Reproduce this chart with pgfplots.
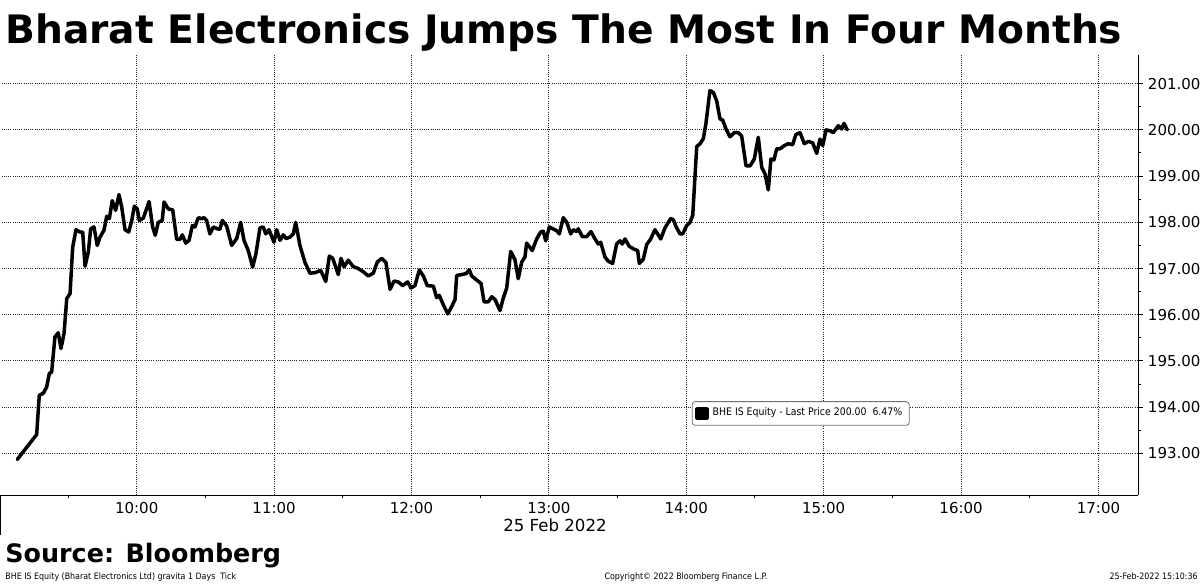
\documentclass[border=0pt]{standalone}
\usepackage{fontspec}
\setmainfont{DejaVu Sans}
\newfontfamily\condfont{DejaVu Sans Condensed}
\usepackage{pgfplots}
\pgfplotsset{compat=1.18}
\begin{document}
\begin{tikzpicture}
\path[use as bounding box] (0,0) rectangle (600pt,292pt);
\begin{axis}[
    scale only axis,
    width=569.5pt,
    height=220.25pt,
    at={(-0.35pt,44.25pt)},
    anchor=south west,
    xmin=9, xmax=17.29,
    ymin=192.09, ymax=201.62,
    axis x line*=bottom,
    axis y line*=right,
    xtick={9,10,11,12,13,14,15,16,17},
    xticklabels={{},10:00,11:00,12:00,13:00,14:00,15:00,16:00,17:00},
    ytick={193,194,195,196,197,198,199,200,201},
    yticklabels={193.00,194.00,195.00,196.00,197.00,198.00,199.00,200.00,201.00},
    minor x tick num=1,
    minor y tick num=1,
    tick align=outside,
    major tick length=2.3pt,
    minor tick length=1.4pt,
    major x tick style={draw=none},
    tick style={black, line width=0.5pt},
    axis line style={black, line width=0.6pt},
    grid=major,
    grid style={black!85, line width=0.5pt, dash pattern=on 0.5pt off 0.6pt},
    ticklabel style={font=\fontsize{7.5}{9}\selectfont},
    xticklabel style={yshift=2.4pt},
    yticklabel style={xshift=-1pt},
    /pgf/number format/assume math mode=true,
    legend style={
        at={(0.608,0.214)}, anchor=north west,
        draw=black!55, rounded corners=1.5pt, fill=white,
        font=\condfont\fontsize{5.2}{6.5}\selectfont,
        inner xsep=1.5pt, inner ysep=1.2pt,
    },
    legend cell align=left,
    legend image code/.code={\fill[black, sharp corners] (0pt,-2.4pt) rectangle (5pt,2.4pt);},
]
\addplot[black, line width=1.75pt, line join=round, line cap=round] coordinates {
    (9.131,192.87) (9.272,193.41) (9.291,194.26) (9.320,194.30) (9.345,194.44)
    (9.364,194.73) (9.381,194.76) (9.405,195.52) (9.429,195.61) (9.449,195.27)
    (9.471,195.59) (9.491,196.35) (9.515,196.46) (9.534,197.46) (9.558,197.84)
    (9.587,197.79) (9.607,197.79) (9.624,197.05) (9.648,197.36) (9.665,197.86)
    (9.689,197.90) (9.713,197.50) (9.733,197.68) (9.762,197.83) (9.782,198.13)
    (9.801,198.08) (9.822,198.47) (9.847,198.26) (9.871,198.60) (9.891,198.33)
    (9.915,197.84) (9.942,197.79) (9.964,198.04) (9.983,198.35) (10.004,198.29)
    (10.019,198.04) (10.048,198.09) (10.090,198.45) (10.116,197.90) (10.135,197.72)
    (10.157,198.00) (10.186,198.04) (10.199,198.44) (10.230,198.29) (10.262,198.27)
    (10.291,197.63) (10.315,197.63) (10.332,197.73) (10.357,197.55) (10.381,197.61)
    (10.405,197.93) (10.424,197.90) (10.448,198.10) (10.473,198.08) (10.490,198.10)
    (10.509,198.04) (10.533,197.75) (10.558,197.90) (10.587,197.86) (10.606,197.85)
    (10.623,198.04) (10.655,197.92) (10.691,197.50) (10.728,197.65) (10.757,198.00)
    (10.781,197.61) (10.812,197.39) (10.844,197.03) (10.868,197.32) (10.897,197.88)
    (10.921,197.90) (10.939,197.75) (10.963,197.84) (10.999,197.57) (11.019,197.84)
    (11.043,197.61) (11.067,197.73) (11.087,197.65) (11.116,197.68) (11.140,197.75)
    (11.157,198.00) (11.188,197.50) (11.225,197.13) (11.261,196.90) (11.298,196.91)
    (11.339,196.96) (11.376,196.72) (11.402,197.27) (11.427,197.22) (11.467,196.87)
    (11.487,197.22) (11.509,197.04) (11.540,197.18) (11.576,197.04) (11.613,197.00)
    (11.649,196.93) (11.686,196.84) (11.722,196.90) (11.751,197.14) (11.783,197.22)
    (11.814,197.13) (11.844,196.55) (11.873,196.73) (11.904,196.71) (11.936,196.63)
    (11.972,196.71) (11.996,196.58) (12.025,196.63) (12.057,196.97) (12.086,196.84)
    (12.115,196.63) (12.159,196.62) (12.183,196.37) (12.202,196.42) (12.237,196.18)
    (12.264,196.02) (12.293,196.18) (12.317,196.33) (12.329,196.85) (12.365,196.87)
    (12.397,196.89) (12.421,196.97) (12.438,196.84) (12.475,196.75) (12.506,196.68)
    (12.528,196.28) (12.559,196.28) (12.584,196.39) (12.608,196.33) (12.644,196.09)
    (12.668,196.36) (12.693,196.58) (12.722,197.37) (12.753,197.19) (12.777,196.78)
    (12.802,197.14) (12.826,197.25) (12.838,197.55) (12.879,197.39) (12.911,197.64)
    (12.940,197.79) (12.959,197.81) (12.977,197.60) (13.003,197.90) (13.028,197.86)
    (13.057,197.82) (13.076,197.75) (13.105,198.10) (13.130,198.00) (13.159,197.75)
    (13.178,197.84) (13.202,197.80) (13.214,197.86) (13.243,197.69) (13.275,197.69)
    (13.306,197.80) (13.336,197.64) (13.360,197.53) (13.377,197.57) (13.408,197.25)
    (13.432,197.16) (13.464,197.11) (13.493,197.53) (13.517,197.60) (13.534,197.53)
    (13.554,197.64) (13.585,197.48) (13.619,197.42) (13.646,197.39) (13.658,197.11)
    (13.687,197.20) (13.712,197.52) (13.741,197.64) (13.772,197.84) (13.814,197.64)
    (13.845,197.88) (13.886,198.08) (13.905,198.06) (13.925,197.91) (13.954,197.75)
    (13.974,197.75) (14.003,197.93) (14.027,198.00) (14.047,198.15) (14.076,199.64)
    (14.100,199.70) (14.124,199.81) (14.143,200.14) (14.172,200.85) (14.197,200.81)
    (14.221,200.63) (14.245,200.24) (14.265,200.21) (14.289,200.02) (14.318,199.85)
    (14.349,199.94) (14.378,199.94) (14.403,199.87) (14.435,199.22) (14.464,199.22)
    (14.495,199.37) (14.524,199.84) (14.549,199.19) (14.573,199.05) (14.597,198.70)
    (14.616,199.37) (14.638,199.35) (14.658,199.59) (14.682,199.59) (14.713,199.66)
    (14.742,199.70) (14.774,199.68) (14.798,199.90) (14.828,199.94) (14.859,199.70)
    (14.888,199.75) (14.920,199.72) (14.949,199.49) (14.973,199.80) (14.993,199.66)
    (15.017,200.00) (15.046,199.98) (15.070,199.94) (15.106,200.09) (15.131,200.02)
    (15.148,200.14) (15.172,200.00)
};
\addlegendentry{BHE IS Equity - Last Price 200.00\ \ 6.47\%}
\end{axis}
% frame line below the axis, date and texts
\draw[black, line width=0.6pt] (0.3pt,44.25pt) -- (0.3pt,24.5pt);
\node[font=\fontsize{8.3}{10}\selectfont, inner sep=0] at (277.5pt,29.5pt) {25 Feb 2022};
\node[anchor=base west, inner sep=0, font=\bfseries\fontsize{19.6}{24}\selectfont]
    at (2.5pt,270.3pt) {Bharat Electronics Jumps The Most In Four Months};
\node[anchor=base west, inner sep=0, font=\bfseries\fontsize{12.7}{15}\selectfont]
    at (2.5pt,10.6pt) {Source:\hspace{0.45em}Bloomberg};
\node[anchor=base west, inner sep=0, font=\condfont\fontsize{4.4}{5}\selectfont]
    at (2.5pt,2pt) {BHE IS Equity (Bharat Electronics Ltd) gravita 1 Days\ \ Tick};
\node[anchor=base, inner sep=0, font=\condfont\fontsize{4.4}{5}\selectfont]
    at (343pt,2pt) {Copyright© 2022 Bloomberg Finance L.P.};
\node[anchor=base east, inner sep=0, font=\condfont\fontsize{4.4}{5}\selectfont]
    at (599pt,2pt) {25-Feb-2022 15:10:36};
\end{tikzpicture}
\end{document}
